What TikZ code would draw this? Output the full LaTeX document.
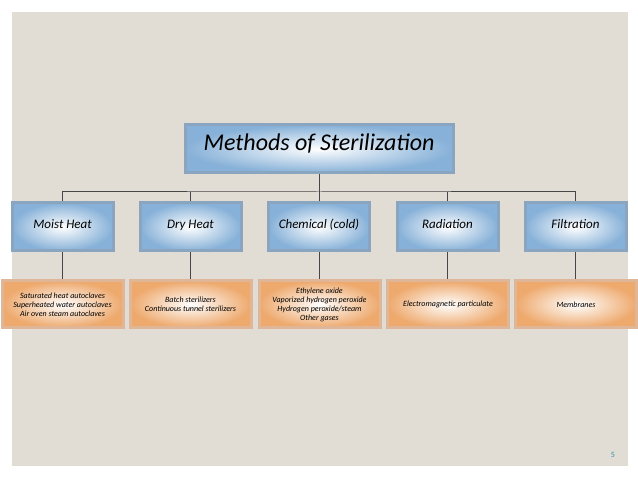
\documentclass[tikz,border=0pt]{standalone}
\usepackage{fontspec}
\setmainfont{Carlito}
\definecolor{bg}{RGB}{226,221,212}
\definecolor{bl}{RGB}{70,135,195}
\definecolor{bldk}{RGB}{60,105,150}
\definecolor{or}{RGB}{232,140,60}
\definecolor{ordk}{RGB}{190,110,50}
\definecolor{ln}{RGB}{70,70,70}
\definecolor{pg}{RGB}{40,150,170}
\tikzset{
 bluebox/.style={draw=bldk!60, line width=3pt, inner color=white, outer color=bl!65, minimum height=48pt, text height=0.75em, text depth=0.35em},
 orbox/.style={draw=ordk!50, line width=3pt, inner color=white, outer color=or!75, minimum height=47pt, minimum width=121pt, font=\itshape\fontsize{8}{9}\selectfont, align=center},
 conn/.style={draw=ln, line width=1pt}
}
\begin{document}
\begin{tikzpicture}[x=1pt,y=-1pt]
\useasboundingbox (0,0) rectangle (638,478);
\fill[white] (0,0) rectangle (638,478);
\fill[bg] (12,12) rectangle (628,466);
\node[bluebox, minimum width=268pt, minimum height=48pt, font=\itshape\fontsize{24}{26}\selectfont] (top) at (319,149) {Methods of Sterilization};
\foreach \n/\x/\t in {a/62.5/Moist Heat, b/190.5/Dry Heat, c/319/Chemical (cold), d/447.5/Radiation, e/575.5/Filtration}{
 \node[bluebox, minimum width=101pt, font=\itshape\fontsize{13}{15}\selectfont] (\n) at (\x,227) {\t};
}
\node[orbox] (a3) at (62.5,304.5) {Saturated heat autoclaves\\Superheated water autoclaves\\Air oven steam autoclaves};
\node[orbox] (b3) at (190.5,304.5) {Batch sterilizers\\Continuous tunnel sterilizers};
\node[orbox] (c3) at (319.5,304.5) {Ethylene oxide\\Vaporized hydrogen peroxide\\Hydrogen peroxide/steam\\Other gases};
\node[orbox] (d3) at (448,304.5) {Electromagnetic particulate};
\node[orbox] (e3) at (576,304.5) {Membranes};
\coordinate (j) at (319,192);
\draw[conn] (top.south) -- (j);
\draw[conn] (a.north) |- (j) -| (e.north);
\foreach \n in {b,c,d}{\draw[conn] (\n.north) -- (\n.north |- j);}
\foreach \n in {a,b,c,d,e}{\draw[conn] (\n.south) -- (\n.south |- \n3.north);}
\node[text=pg, font=\fontsize{8}{9}\selectfont] (pn) at (613,455) {5};
\end{tikzpicture}
\end{document}
